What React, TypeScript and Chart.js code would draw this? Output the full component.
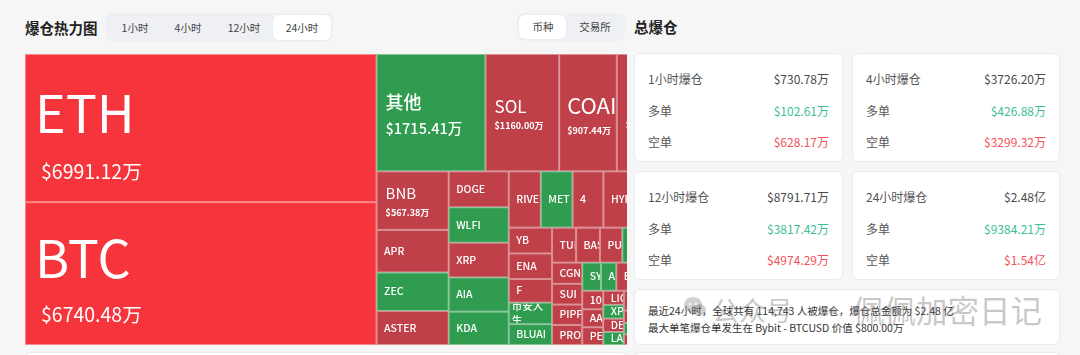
import React, { useEffect, useRef } from "react";
import { Chart, registerables } from "chart.js";

Chart.register(...registerables);

// ---- Treemap data (values in 万 USD) ----
const coinNames = [
  "ETH", "BTC", "其他", "SOL", "COAI", "LINK",
  "BNB", "APR", "ZEC", "ASTER",
  "DOGE", "WLFI", "XRP", "AIA", "KDA",
  "RIVER", "MET", "4", "HYPE", "TAO",
  "YB", "ENA", "F", "币安人生", "BLUAI",
  "TURBO", "BAS", "PUMP", "UNI", "AVAX",
  "CGN", "SUI", "PIPPIN", "PROVE",
  "SYRUP", "AI16Z", "ETC", "WLD", "ENS",
  "1000PEPE", "AAVE", "PEPE",
  "LIGHT", "XPL", "DEXE", "LAB",
  "ORDI", "WIF", "TRUMP", "ONDO", "TIA", "ARB", "OP", "NEAR", "APT", "LTC", "ADA",
];
const coinValues = [
  6991.12, 6740.48, 1715.41, 1160.0, 907.44, 680,
  567.38, 412, 372, 330,
  290, 286, 280, 276, 269,
  242, 240, 233, 228, 200,
  150, 148, 137, 125, 121,
  113, 112, 105, 90, 87,
  86, 84, 83, 81,
  71, 58, 56, 55, 54,
  52, 51, 50,
  39, 38, 37, 36,
  34, 32, 30, 28, 26, 24, 22, 20, 18, 16, 13,
];
// H = heavy short (bright red), S = short-dominant, L = long-dominant
const coinSides = [
  "H", "H", "L", "S", "S", "S",
  "S", "S", "L", "S",
  "S", "L", "S", "L", "L",
  "S", "L", "S", "S", "S",
  "S", "S", "S", "L", "L",
  "S", "S", "S", "L", "S",
  "S", "S", "S", "S",
  "L", "L", "S", "S", "S",
  "S", "S", "S",
  "S", "L", "S", "L",
  "S", "L", "S", "S", "L", "S", "S", "L", "S", "S", "S",
];

// ---- Summary cards ----
const periodLabels = ["1小时爆仓", "4小时爆仓", "12小时爆仓", "24小时爆仓"];
const periodTotals = ["$730.78万", "$3726.20万", "$8791.71万", "$2.48亿"];
const periodLongs = ["$102.61万", "$426.88万", "$3817.42万", "$9384.21万"];
const periodShorts = ["$628.17万", "$3299.32万", "$4974.29万", "$1.54亿"];
const tabLabels = ["1小时", "4小时", "12小时", "24小时"];
const toggleLabels = ["币种", "交易所"];
const summaryLines = [
  "最近24小时，全球共有 114,743 人被爆仓，爆仓总金额为 $2.48 亿",
  "最大单笔爆仓单发生在 Bybit - BTCUSD 价值 $800.00万",
];

const FONT = '"Noto Sans CJK SC", "Noto Sans", sans-serif';
const SIDE_COLORS: Record<string, string> = { H: "#f5353b", S: "#bf4048", L: "#2f9c4f" };

type LabelStyle = { name: number; value: number; nameDy: number; valueDy: number; pad: number; valuePad: number; nameWeight: number; valueWeight: number };
const LABEL_STYLES: Record<string, LabelStyle> = {
  ETH: { name: 52, value: 19.5, nameDy: 4.5, valueDy: 50.5, pad: 10, valuePad: 16, nameWeight: 400, valueWeight: 400 },
  BTC: { name: 52, value: 19.5, nameDy: 4, valueDy: 48, pad: 10, valuePad: 16, nameWeight: 400, valueWeight: 400 },
  其他: { name: 18, value: 14.5, nameDy: -4, valueDy: 21, pad: 9, valuePad: 9, nameWeight: 500, valueWeight: 500 },
  SOL: { name: 17, value: 9, nameDy: 0, valueDy: 16, pad: 9, valuePad: 9, nameWeight: 400, valueWeight: 700 },
  COAI: { name: 22, value: 9, nameDy: 1, valueDy: 21, pad: 8, valuePad: 8, nameWeight: 400, valueWeight: 700 },
  BNB: { name: 15, value: 9, nameDy: -1.5, valueDy: 15.5, pad: 9, valuePad: 9, nameWeight: 400, valueWeight: 700 },
};

type Cell = { name: string; value: number; side: string; area: number; x: number; y: number; w: number; h: number };

// ECharts-style squarified treemap layout (golden square ratio)
function layoutTreemap(W: number, H: number): Cell[] {
  const ratio = 0.5 * (1 + Math.sqrt(5));
  const total = coinValues.reduce((a, b) => a + b, 0);
  const nodes: Cell[] = coinNames
    .map((name, i) => ({ name, value: coinValues[i], side: coinSides[i], area: (coinValues[i] / total) * W * H, x: 0, y: 0, w: 0, h: 0 }))
    .sort((a, b) => b.value - a.value);
  const rect = { x: 0, y: 0, width: W, height: H };

  const worst = (row: Cell[], rowArea: number, fixed: number) => {
    let mx = 0, mn = Infinity;
    row.forEach((n) => { if (n.area < mn) mn = n.area; if (n.area > mx) mx = n.area; });
    const sq = rowArea * rowArea;
    const f = fixed * fixed * ratio;
    return sq ? Math.max((f * mx) / sq, sq / (f * mn)) : Infinity;
  };
  const position = (row: Cell[], rowArea: number, fixed: number, flush: boolean) => {
    const horiz = fixed === rect.width;
    let last = horiz ? rect.x : rect.y;
    let other = fixed ? rowArea / fixed : 0;
    const otherMax = horiz ? rect.height : rect.width;
    if (flush || other > otherMax) other = otherMax;
    const start = horiz ? rect.x : rect.y;
    const len = horiz ? rect.width : rect.height;
    row.forEach((n, i) => {
      const step = other ? n.area / other : 0;
      const remain = start + len - last;
      const mod = i === row.length - 1 || remain < step ? remain : step;
      if (horiz) { n.x = last; n.y = rect.y; n.w = mod; n.h = other; }
      else { n.x = rect.x; n.y = last; n.w = other; n.h = mod; }
      last += mod;
    });
    if (horiz) { rect.y += other; rect.height -= other; }
    else { rect.x += other; rect.width -= other; }
  };

  let fixed = Math.min(rect.width, rect.height);
  let best = Infinity;
  let row: Cell[] = [];
  let rowArea = 0;
  for (let i = 0; i < nodes.length; ) {
    const c = nodes[i];
    row.push(c);
    rowArea += c.area;
    const score = worst(row, rowArea, fixed);
    if (score <= best) { i++; best = score; }
    else {
      row.pop();
      rowArea -= c.area;
      position(row, rowArea, fixed, false);
      fixed = Math.min(rect.width, rect.height);
      row = [];
      rowArea = 0;
      best = Infinity;
    }
  }
  if (row.length) position(row, rowArea, fixed, true);
  return nodes;
}

const hasCJK = (s: string) => /[\u4e00-\u9fff]/.test(s);

const treemapPlugin = {
  id: "treemapCells",
  afterDatasetsDraw(chart: any) {
    const { ctx, chartArea, scales } = chart;
    const xs = scales.x;
    const ys = scales.y;
    const W = chartArea.right - chartArea.left;
    const H = chartArea.bottom - chartArea.top;
    const cells = layoutTreemap(W, H);
    ctx.save();
    cells.forEach((c) => {
      const x0 = xs.getPixelForValue(c.x / W);
      const x1 = xs.getPixelForValue((c.x + c.w) / W);
      const y0 = ys.getPixelForValue(c.y / H);
      const y1 = ys.getPixelForValue((c.y + c.h) / H);
      const w = x1 - x0;
      const h = y1 - y0;
      ctx.fillStyle = SIDE_COLORS[c.side];
      ctx.fillRect(x0, y0, w, h);
      ctx.strokeStyle = "rgba(255,255,255,0.42)";
      ctx.lineWidth = 1;
      ctx.strokeRect(x0 + 0.5, y0 + 0.5, Math.max(w - 1, 0), Math.max(h - 1, 0));

      // label
      ctx.save();
      ctx.beginPath();
      ctx.rect(x0 + 1, y0 + 1, Math.max(w - 2, 0), Math.max(h - 2, 0));
      ctx.clip();
      ctx.fillStyle = "#ffffff";
      ctx.textAlign = "left";
      ctx.textBaseline = "alphabetic";
      const cy = y0 + h / 2;
      const st = LABEL_STYLES[c.name];
      const valueText = `$${c.value.toFixed(2)}万`;
      if (st) {
        ctx.font = `${st.nameWeight} ${st.name}px ${FONT}`;
        ctx.fillText(c.name, x0 + st.pad, cy + st.nameDy);
        ctx.font = `${st.valueWeight} ${st.value}px ${FONT}`;
        ctx.fillText(valueText, x0 + st.valuePad, cy + st.valueDy);
      } else if (w * h >= 4000) {
        ctx.font = `400 16px ${FONT}`;
        ctx.fillText(c.name, x0 + 9, cy - 1);
        ctx.font = `700 9px ${FONT}`;
        ctx.fillText(valueText, x0 + 9, cy + 15);
      } else {
        const size = 10.5;
        ctx.font = `500 ${size}px ${FONT}`;
        const pad = 7.5;
        const tw = ctx.measureText(c.name).width;
        if (hasCJK(c.name) && tw > w - 2 * pad) {
          const avail = w - 6;
          const lines: string[] = [];
          let cur = "";
          for (const ch of c.name) {
            if (ctx.measureText(cur + ch).width > avail && cur) { lines.push(cur); cur = ch; }
            else cur += ch;
          }
          if (cur) lines.push(cur);
          const lh = 14;
          const top = cy - (lines.length * lh) / 2;
          lines.forEach((ln, k) => ctx.fillText(ln, x0 + 3, top + k * lh + lh / 2 + 4));
        } else {
          ctx.fillText(c.name, x0 + pad, cy + 3.7);
        }
      }
      ctx.restore();
    });
    ctx.restore();
  },
};

function Treemap() {
  const ref = useRef<HTMLCanvasElement | null>(null);
  useEffect(() => {
    if (!ref.current) return;
    const chart = new Chart(ref.current, {
      type: "scatter",
      data: { datasets: [{ data: [], pointRadius: 0 }] },
      options: {
        animation: false,
        responsive: false,
        maintainAspectRatio: false,
        layout: { padding: 0 },
        plugins: { legend: { display: false }, tooltip: { enabled: false } },
        scales: {
          x: { type: "linear", min: 0, max: 1, display: false },
          y: { type: "linear", min: 0, max: 1, reverse: true, display: false },
        },
      },
      plugins: [treemapPlugin],
    } as any);
    return () => chart.destroy();
  }, []);
  return <canvas ref={ref} width={635} height={291} style={{ display: "block", width: 635, height: 291 }} />;
}

function StatCard({ left, top, idx }: { left: number; top: number; idx: number }) {
  const rowStyle = (y: number): React.CSSProperties => ({
    position: "absolute", left: 13, right: 13, top: y - 9, height: 18, lineHeight: "18px",
    display: "flex", justifyContent: "space-between", fontSize: 12,
  });
  return (
    <div style={{ position: "absolute", left, top, width: idx % 2 === 0 ? 209 : 208, height: 109, background: "#fff", border: "1px solid #ebebeb", borderRadius: 6, boxSizing: "border-box" }}>
      <div style={rowStyle(25)}><span style={{ color: "#555" }}>{periodLabels[idx]}</span><span style={{ color: "#4a4a4a" }}>{periodTotals[idx]}</span></div>
      <div style={rowStyle(57)}><span style={{ color: "#555" }}>多单</span><span style={{ color: "#3cbf96" }}>{periodLongs[idx]}</span></div>
      <div style={rowStyle(88)}><span style={{ color: "#555" }}>空单</span><span style={{ color: "#f5525a" }}>{periodShorts[idx]}</span></div>
    </div>
  );
}

export default function App() {
  const tabCenters = [135, 188, 244, 302];
  const toggleCenters = [26, 78];
  return (
    <div style={{ position: "fixed", left: 0, top: 0, width: 1080, height: 355, background: "#f6f6f7", overflow: "hidden", fontFamily: FONT }}>
      <div style={{ position: "absolute", left: 25, top: 19, height: 18, lineHeight: "18px", fontSize: 14.5, fontWeight: 700, color: "#222" }}>爆仓热力图</div>

      <div style={{ position: "absolute", left: 106, top: 13, width: 227, height: 29, background: "#eef0f4", borderRadius: 7 }}>
        <div style={{ position: "absolute", left: 167, top: 2, width: 58, height: 25, background: "#fff", borderRadius: 6, boxShadow: "0 0 2px rgba(0,0,0,0.06)" }} />
        {tabLabels.map((t, i) => (
          <div key={t} style={{ position: "absolute", left: tabCenters[i] - 106 - 30, width: 60, top: 0, height: 29, lineHeight: "29px", textAlign: "center", fontSize: 10.5, color: "#444" }}>{t}</div>
        ))}
      </div>

      <div style={{ position: "absolute", left: 517, top: 13, width: 108, height: 28, background: "#eef0f4", borderRadius: 7 }}>
        <div style={{ position: "absolute", left: 2, top: 2, width: 47, height: 24, background: "#fff", borderRadius: 6, boxShadow: "0 0 2px rgba(0,0,0,0.06)" }} />
        {toggleLabels.map((t, i) => (
          <div key={t} style={{ position: "absolute", left: toggleCenters[i] - 30, width: 60, top: 0, height: 28, lineHeight: "28px", textAlign: "center", fontSize: 10.5, color: "#444" }}>{t}</div>
        ))}
      </div>

      <div style={{ position: "absolute", left: 634, top: 18, height: 18, lineHeight: "18px", fontSize: 14.5, fontWeight: 700, color: "#222" }}>总爆仓</div>

      <div style={{ position: "absolute", left: 25, top: 54, width: 602, height: 291, overflow: "hidden" }}>
        <Treemap />
      </div>

      <StatCard left={634} top={53} idx={0} />
      <StatCard left={852} top={53} idx={1} />
      <StatCard left={634} top={171} idx={2} />
      <StatCard left={852} top={171} idx={3} />

      <div style={{ position: "absolute", left: 634, top: 289, width: 426, height: 56, background: "#fff", border: "1px solid #ebebeb", borderRadius: 6, boxSizing: "border-box" }}>
        {summaryLines.map((ln, i) => (
          <div key={i} style={{ position: "absolute", left: 13, top: 12 + i * 17, height: 17, lineHeight: "17px", fontSize: 10.5, color: "#333", whiteSpace: "nowrap" }}>{ln}</div>
        ))}
      </div>

      {/* watermark */}
      <div style={{ position: "absolute", left: 683, top: 296, width: 24, height: 22, pointerEvents: "none" }}>
        <svg width="24" height="22" viewBox="0 0 24 22">
          <ellipse cx="10" cy="9" rx="9" ry="8" fill="rgba(120,120,120,0.35)" />
          <ellipse cx="16" cy="14" rx="7" ry="6" fill="rgba(120,120,120,0.35)" />
          <circle cx="7" cy="8" r="1.3" fill="rgba(255,255,255,0.8)" />
          <circle cx="13" cy="8" r="1.3" fill="rgba(255,255,255,0.8)" />
        </svg>
      </div>
      <div style={{ position: "absolute", left: 712, top: 292, height: 36, lineHeight: "36px", fontSize: 27, color: "rgba(110,110,110,0.38)", whiteSpace: "nowrap", pointerEvents: "none" }}>公众号</div>
      <div style={{ position: "absolute", left: 818, top: 292, height: 36, lineHeight: "36px", fontSize: 27, color: "rgba(110,110,110,0.38)", pointerEvents: "none" }}>·</div>
      <div style={{ position: "absolute", left: 853, top: 290, height: 38, lineHeight: "38px", fontSize: 31.5, color: "rgba(110,110,110,0.38)", whiteSpace: "nowrap", pointerEvents: "none" }}>佩佩加密日记</div>

      {/* cards below (cut off) */}
      <div style={{ position: "absolute", left: 25, top: 352, width: 602, height: 40, background: "#fff", border: "1px solid #ebebeb", borderRadius: 6, boxSizing: "border-box" }} />
      <div style={{ position: "absolute", left: 634, top: 352, width: 426, height: 40, background: "#fff", border: "1px solid #ebebeb", borderRadius: 6, boxSizing: "border-box" }} />
    </div>
  );
}
